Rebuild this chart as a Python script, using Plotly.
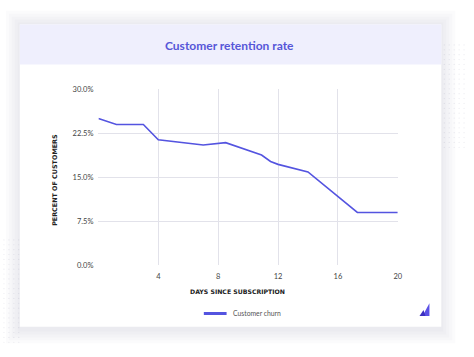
import plotly.graph_objects as go

days = [0, 1.2, 3, 4, 7, 8.5, 10.9, 11.5, 12, 14, 17.3, 20]
percent = [25.0, 24.0, 24.0, 21.4, 20.5, 20.9, 18.8, 17.7, 17.2, 15.9, 9.0, 9.0]
x_ticks = [4, 8, 12, 16, 20]
y_ticks = [0, 7.5, 15, 22.5, 30]
y_tick_labels = ["0.0%", "7.5%", "15.0%", "22.5%", "30.0%"]
series_name = "Customer churn"
title_text = "Customer retention rate"
x_title = "DAYS SINCE SUBSCRIPTION"
y_title = "PERCENT OF CUSTOMERS"

W, H = 474, 357
LINE = "#5454e0"

def px(x):
    return x / W

def py(y):
    return 1 - y / H

fig = go.Figure()
fig.add_trace(go.Scatter(x=days, y=percent, mode="lines", name=series_name,
                         line=dict(color=LINE, width=1.6), showlegend=False,
                         hoverinfo="skip"))

shapes = []
# dotted background patterns
for xi in range(449, 472, 5):
    for yi in range(42, 148, 5):
        shapes.append(dict(type="circle", xref="paper", yref="paper",
                           x0=px(xi - 0.6), x1=px(xi + 0.6), y0=py(yi - 0.6), y1=py(yi + 0.6),
                           fillcolor="#ebebf0", line=dict(width=0), layer="below"))
for xi in range(4, 22, 5):
    for yi in range(242, 352, 5):
        shapes.append(dict(type="circle", xref="paper", yref="paper",
                           x0=px(xi - 0.6), x1=px(xi + 0.6), y0=py(yi - 0.6), y1=py(yi + 0.6),
                           fillcolor="#ebebf0", line=dict(width=0), layer="below"))
# card shadow
for i in range(5):
    d = 2 + i * 3
    shapes.append(dict(type="rect", xref="paper", yref="paper",
                       x0=px(20 - d), x1=px(446 + d), y0=py(21 - d), y1=py(331 + d + 3),
                       fillcolor="rgba(120,120,150,1)", opacity=0.03, line=dict(width=0), layer="below"))
# card
shapes.append(dict(type="rect", xref="paper", yref="paper",
                   x0=px(20), x1=px(446), y0=py(21), y1=py(331),
                   fillcolor="white", line=dict(width=0), layer="below"))
# header band
shapes.append(dict(type="rect", xref="paper", yref="paper",
                   x0=px(20), x1=px(446), y0=py(21), y1=py(62),
                   fillcolor="#efeffd", line=dict(width=0), layer="below"))
# legend sample
shapes.append(dict(type="line", xref="paper", yref="paper",
                   x0=px(206), x1=px(229), y0=py(317.5), y1=py(317.5),
                   line=dict(color=LINE, width=3)))
# logo
shapes.append(dict(type="path", xref="paper", yref="paper",
                   path=f"M {px(427)},{py(320)} L {px(434)},{py(307)} L {px(434)},{py(320)} Z",
                   fillcolor="#5a50e6", line=dict(width=0)))
shapes.append(dict(type="path", xref="paper", yref="paper",
                   path=f"M {px(424)},{py(320)} L {px(428)},{py(314)} L {px(430)},{py(320)} Z",
                   fillcolor="#3c2fc0", line=dict(width=0)))

annotations = [
    dict(text=f"<b>{title_text}</b>", xref="paper", yref="paper", x=px(232), y=py(43),
         showarrow=False, font=dict(family="Lato", size=12, color="#5656d8"),
         xanchor="center", yanchor="middle"),
    dict(text=f"<b>{x_title}</b>", xref="paper", yref="paper", x=px(240), y=py(295),
         showarrow=False, font=dict(family="DejaVu Sans", size=6.2, color="#222222"),
         xanchor="center", yanchor="middle"),
    dict(text=f"<b>{y_title}</b>", xref="paper", yref="paper", x=px(56), y=py(180),
         showarrow=False, textangle=-90, font=dict(family="DejaVu Sans", size=6.4, color="#222222"),
         xanchor="center", yanchor="middle"),
    dict(text=series_name, xref="paper", yref="paper", x=px(233), y=py(317.5),
         showarrow=False, font=dict(family="Lato", size=6.8, color="#555555"),
         xanchor="left", yanchor="middle"),
]

fig.update_layout(
    width=W, height=H,
    margin=dict(l=0, r=0, t=0, b=0),
    paper_bgcolor="white", plot_bgcolor="rgba(0,0,0,0)",
    shapes=shapes, annotations=annotations,
    xaxis=dict(domain=[px(99.5), px(402)], range=[0, 20], tickvals=x_ticks,
               ticktext=[str(v) for v in x_ticks], showgrid=True, gridcolor="#e2e2ea",
               gridwidth=1, zeroline=False, showline=False, ticks="",
               tickfont=dict(family="Lato", size=7.5, color="#444444"), ticklabelstandoff=5),
    yaxis=dict(domain=[py(268), py(87.5)], range=[0, 30], tickvals=y_ticks,
               ticktext=y_tick_labels, showgrid=True, gridcolor="#e2e2ea", gridwidth=1,
               zeroline=False, showline=False, ticks="",
               tickfont=dict(family="Lato", size=7.5, color="#444444"), ticklabelstandoff=4),
    showlegend=False,
)

fig.write_html("out.html", config={"displayModeBar": False},
               post_script="document.body.style.margin='0';document.body.style.overflow='hidden';")
